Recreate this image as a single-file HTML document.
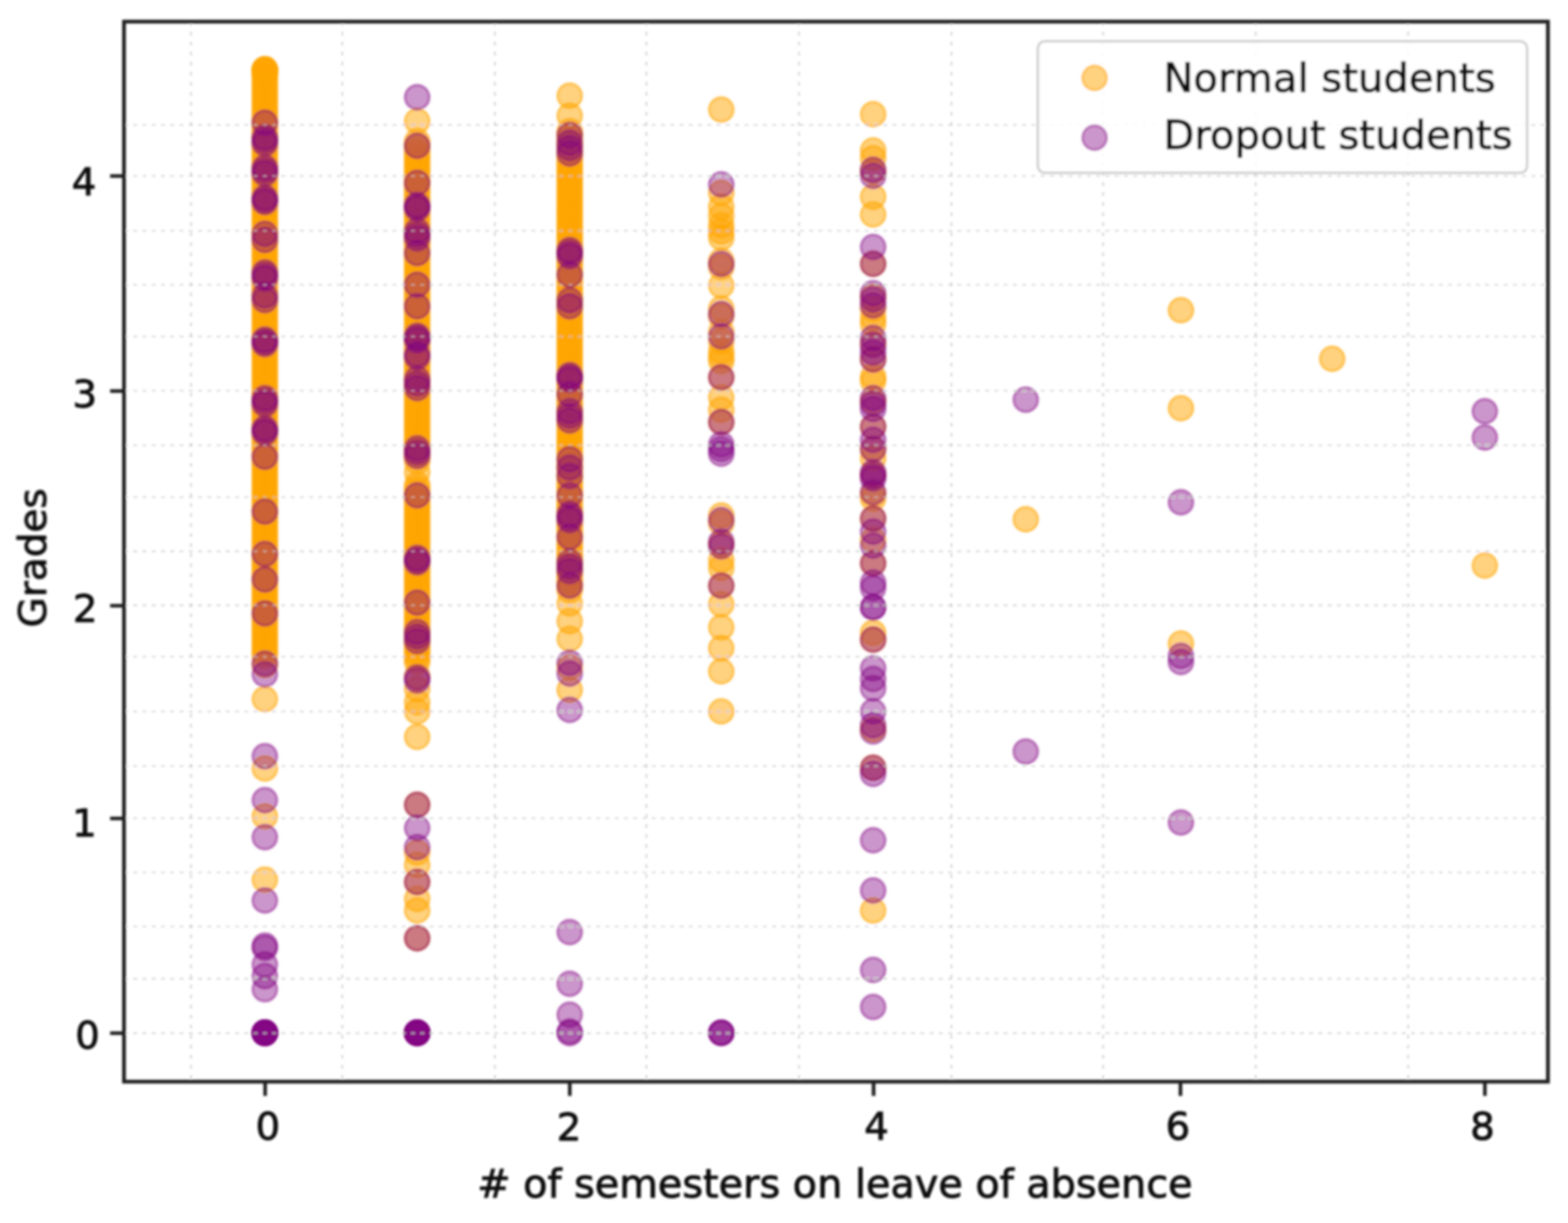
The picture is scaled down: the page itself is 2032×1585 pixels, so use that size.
<!DOCTYPE html>
<html><head><meta charset="utf-8"><title>Grades vs semesters on leave</title><style>html,body{margin:0;padding:0;background:#fff;overflow:hidden;}svg{display:block;}</style></head><body>
<svg width="2032" height="1585" viewBox="0 0 2032 1585"><defs><filter id="b" filterUnits="userSpaceOnUse" x="0" y="0" width="2032" height="1585"><feGaussianBlur stdDeviation="1.6"/></filter></defs><rect width="100%" height="100%" fill="#ffffff"/><g filter="url(#b)"><g fill="#ffa500" fill-opacity="0.50" stroke="#ffa500" stroke-opacity="0.50" stroke-width="3.4"><circle cx="343.2" cy="90.0" r="15.8"/><circle cx="343.2" cy="90.0" r="15.8"/><circle cx="343.2" cy="92.0" r="15.8"/><circle cx="343.2" cy="94.0" r="15.8"/><circle cx="343.2" cy="90.0" r="15.8"/><circle cx="343.2" cy="95.0" r="15.8"/><circle cx="343.2" cy="100.0" r="15.8"/><circle cx="343.2" cy="105.0" r="15.8"/><circle cx="343.2" cy="110.0" r="15.8"/><circle cx="343.2" cy="115.0" r="15.8"/><circle cx="343.2" cy="120.0" r="15.8"/><circle cx="343.2" cy="125.0" r="15.8"/><circle cx="343.2" cy="130.0" r="15.8"/><circle cx="343.2" cy="135.0" r="15.8"/><circle cx="343.2" cy="140.0" r="15.8"/><circle cx="343.2" cy="145.0" r="15.8"/><circle cx="343.2" cy="150.0" r="15.8"/><circle cx="343.2" cy="155.0" r="15.8"/><circle cx="343.2" cy="160.0" r="15.8"/><circle cx="343.2" cy="165.0" r="15.8"/><circle cx="343.2" cy="170.0" r="15.8"/><circle cx="343.2" cy="175.0" r="15.8"/><circle cx="343.2" cy="180.0" r="15.8"/><circle cx="343.2" cy="185.0" r="15.8"/><circle cx="343.2" cy="190.0" r="15.8"/><circle cx="343.2" cy="195.0" r="15.8"/><circle cx="343.2" cy="200.0" r="15.8"/><circle cx="343.2" cy="205.0" r="15.8"/><circle cx="343.2" cy="210.0" r="15.8"/><circle cx="343.2" cy="215.0" r="15.8"/><circle cx="343.2" cy="220.0" r="15.8"/><circle cx="343.2" cy="225.0" r="15.8"/><circle cx="343.2" cy="230.0" r="15.8"/><circle cx="343.2" cy="235.0" r="15.8"/><circle cx="343.2" cy="240.0" r="15.8"/><circle cx="343.2" cy="245.0" r="15.8"/><circle cx="343.2" cy="250.0" r="15.8"/><circle cx="343.2" cy="255.0" r="15.8"/><circle cx="343.2" cy="260.0" r="15.8"/><circle cx="343.2" cy="265.0" r="15.8"/><circle cx="343.2" cy="270.0" r="15.8"/><circle cx="343.2" cy="275.0" r="15.8"/><circle cx="343.2" cy="280.0" r="15.8"/><circle cx="343.2" cy="285.0" r="15.8"/><circle cx="343.2" cy="290.0" r="15.8"/><circle cx="343.2" cy="295.0" r="15.8"/><circle cx="343.2" cy="300.0" r="15.8"/><circle cx="343.2" cy="305.0" r="15.8"/><circle cx="343.2" cy="310.0" r="15.8"/><circle cx="343.2" cy="315.0" r="15.8"/><circle cx="343.2" cy="320.0" r="15.8"/><circle cx="343.2" cy="325.0" r="15.8"/><circle cx="343.2" cy="330.0" r="15.8"/><circle cx="343.2" cy="335.0" r="15.8"/><circle cx="343.2" cy="340.0" r="15.8"/><circle cx="343.2" cy="345.0" r="15.8"/><circle cx="343.2" cy="350.0" r="15.8"/><circle cx="343.2" cy="355.0" r="15.8"/><circle cx="343.2" cy="360.0" r="15.8"/><circle cx="343.2" cy="365.0" r="15.8"/><circle cx="343.2" cy="370.0" r="15.8"/><circle cx="343.2" cy="375.0" r="15.8"/><circle cx="343.2" cy="380.0" r="15.8"/><circle cx="343.2" cy="385.0" r="15.8"/><circle cx="343.2" cy="390.0" r="15.8"/><circle cx="343.2" cy="395.0" r="15.8"/><circle cx="343.2" cy="400.0" r="15.8"/><circle cx="343.2" cy="405.0" r="15.8"/><circle cx="343.2" cy="410.0" r="15.8"/><circle cx="343.2" cy="415.0" r="15.8"/><circle cx="343.2" cy="420.0" r="15.8"/><circle cx="343.2" cy="425.0" r="15.8"/><circle cx="343.2" cy="430.0" r="15.8"/><circle cx="343.2" cy="435.0" r="15.8"/><circle cx="343.2" cy="440.0" r="15.8"/><circle cx="343.2" cy="445.0" r="15.8"/><circle cx="343.2" cy="450.0" r="15.8"/><circle cx="343.2" cy="455.0" r="15.8"/><circle cx="343.2" cy="460.0" r="15.8"/><circle cx="343.2" cy="465.0" r="15.8"/><circle cx="343.2" cy="470.0" r="15.8"/><circle cx="343.2" cy="475.0" r="15.8"/><circle cx="343.2" cy="480.0" r="15.8"/><circle cx="343.2" cy="485.0" r="15.8"/><circle cx="343.2" cy="490.0" r="15.8"/><circle cx="343.2" cy="495.0" r="15.8"/><circle cx="343.2" cy="500.0" r="15.8"/><circle cx="343.2" cy="505.0" r="15.8"/><circle cx="343.2" cy="510.0" r="15.8"/><circle cx="343.2" cy="515.0" r="15.8"/><circle cx="343.2" cy="520.0" r="15.8"/><circle cx="343.2" cy="525.0" r="15.8"/><circle cx="343.2" cy="530.0" r="15.8"/><circle cx="343.2" cy="535.0" r="15.8"/><circle cx="343.2" cy="540.0" r="15.8"/><circle cx="343.2" cy="545.0" r="15.8"/><circle cx="343.2" cy="550.0" r="15.8"/><circle cx="343.2" cy="555.0" r="15.8"/><circle cx="343.2" cy="560.0" r="15.8"/><circle cx="343.2" cy="565.0" r="15.8"/><circle cx="343.2" cy="570.0" r="15.8"/><circle cx="343.2" cy="575.0" r="15.8"/><circle cx="343.2" cy="580.0" r="15.8"/><circle cx="343.2" cy="585.0" r="15.8"/><circle cx="343.2" cy="590.0" r="15.8"/><circle cx="343.2" cy="595.0" r="15.8"/><circle cx="343.2" cy="600.0" r="15.8"/><circle cx="343.2" cy="605.0" r="15.8"/><circle cx="343.2" cy="610.0" r="15.8"/><circle cx="343.2" cy="615.0" r="15.8"/><circle cx="343.2" cy="620.0" r="15.8"/><circle cx="343.2" cy="625.0" r="15.8"/><circle cx="343.2" cy="630.0" r="15.8"/><circle cx="343.2" cy="635.0" r="15.8"/><circle cx="343.2" cy="640.0" r="15.8"/><circle cx="343.2" cy="645.0" r="15.8"/><circle cx="343.2" cy="650.0" r="15.8"/><circle cx="343.2" cy="655.0" r="15.8"/><circle cx="343.2" cy="660.0" r="15.8"/><circle cx="343.2" cy="665.0" r="15.8"/><circle cx="343.2" cy="670.0" r="15.8"/><circle cx="343.2" cy="675.0" r="15.8"/><circle cx="343.2" cy="680.0" r="15.8"/><circle cx="343.2" cy="685.0" r="15.8"/><circle cx="343.2" cy="690.0" r="15.8"/><circle cx="343.2" cy="695.0" r="15.8"/><circle cx="343.2" cy="700.0" r="15.8"/><circle cx="343.2" cy="705.0" r="15.8"/><circle cx="343.2" cy="710.0" r="15.8"/><circle cx="343.2" cy="715.0" r="15.8"/><circle cx="343.2" cy="720.0" r="15.8"/><circle cx="343.2" cy="725.0" r="15.8"/><circle cx="343.2" cy="730.0" r="15.8"/><circle cx="343.2" cy="735.0" r="15.8"/><circle cx="343.2" cy="740.0" r="15.8"/><circle cx="343.2" cy="745.0" r="15.8"/><circle cx="343.2" cy="750.0" r="15.8"/><circle cx="343.2" cy="755.0" r="15.8"/><circle cx="343.2" cy="760.0" r="15.8"/><circle cx="343.2" cy="765.0" r="15.8"/><circle cx="343.2" cy="770.0" r="15.8"/><circle cx="343.2" cy="775.0" r="15.8"/><circle cx="343.2" cy="780.0" r="15.8"/><circle cx="343.2" cy="785.0" r="15.8"/><circle cx="343.2" cy="790.0" r="15.8"/><circle cx="343.2" cy="795.0" r="15.8"/><circle cx="343.2" cy="800.0" r="15.8"/><circle cx="343.2" cy="805.0" r="15.8"/><circle cx="343.2" cy="810.0" r="15.8"/><circle cx="343.2" cy="815.0" r="15.8"/><circle cx="343.2" cy="820.0" r="15.8"/><circle cx="343.2" cy="825.0" r="15.8"/><circle cx="343.2" cy="830.0" r="15.8"/><circle cx="343.2" cy="835.0" r="15.8"/><circle cx="343.2" cy="840.0" r="15.8"/><circle cx="343.2" cy="845.0" r="15.8"/><circle cx="343.2" cy="850.0" r="15.8"/><circle cx="343.2" cy="862.0" r="15.8"/><circle cx="343.2" cy="906.0" r="15.8"/><circle cx="343.2" cy="996.0" r="15.8"/><circle cx="343.2" cy="1058.0" r="15.8"/><circle cx="343.2" cy="1140.0" r="15.8"/><circle cx="540.6" cy="157.0" r="15.8"/><circle cx="540.6" cy="183.0" r="15.8"/><circle cx="540.6" cy="188.0" r="15.8"/><circle cx="540.6" cy="193.0" r="15.8"/><circle cx="540.6" cy="198.0" r="15.8"/><circle cx="540.6" cy="203.0" r="15.8"/><circle cx="540.6" cy="208.0" r="15.8"/><circle cx="540.6" cy="213.0" r="15.8"/><circle cx="540.6" cy="218.0" r="15.8"/><circle cx="540.6" cy="223.0" r="15.8"/><circle cx="540.6" cy="228.0" r="15.8"/><circle cx="540.6" cy="233.0" r="15.8"/><circle cx="540.6" cy="238.0" r="15.8"/><circle cx="540.6" cy="243.0" r="15.8"/><circle cx="540.6" cy="248.0" r="15.8"/><circle cx="540.6" cy="253.0" r="15.8"/><circle cx="540.6" cy="258.0" r="15.8"/><circle cx="540.6" cy="263.0" r="15.8"/><circle cx="540.6" cy="268.0" r="15.8"/><circle cx="540.6" cy="273.0" r="15.8"/><circle cx="540.6" cy="278.0" r="15.8"/><circle cx="540.6" cy="283.0" r="15.8"/><circle cx="540.6" cy="288.0" r="15.8"/><circle cx="540.6" cy="293.0" r="15.8"/><circle cx="540.6" cy="298.0" r="15.8"/><circle cx="540.6" cy="303.0" r="15.8"/><circle cx="540.6" cy="308.0" r="15.8"/><circle cx="540.6" cy="313.0" r="15.8"/><circle cx="540.6" cy="318.0" r="15.8"/><circle cx="540.6" cy="323.0" r="15.8"/><circle cx="540.6" cy="328.0" r="15.8"/><circle cx="540.6" cy="333.0" r="15.8"/><circle cx="540.6" cy="338.0" r="15.8"/><circle cx="540.6" cy="343.0" r="15.8"/><circle cx="540.6" cy="348.0" r="15.8"/><circle cx="540.6" cy="353.0" r="15.8"/><circle cx="540.6" cy="358.0" r="15.8"/><circle cx="540.6" cy="363.0" r="15.8"/><circle cx="540.6" cy="368.0" r="15.8"/><circle cx="540.6" cy="373.0" r="15.8"/><circle cx="540.6" cy="378.0" r="15.8"/><circle cx="540.6" cy="383.0" r="15.8"/><circle cx="540.6" cy="388.0" r="15.8"/><circle cx="540.6" cy="393.0" r="15.8"/><circle cx="540.6" cy="398.0" r="15.8"/><circle cx="540.6" cy="403.0" r="15.8"/><circle cx="540.6" cy="408.0" r="15.8"/><circle cx="540.6" cy="413.0" r="15.8"/><circle cx="540.6" cy="418.0" r="15.8"/><circle cx="540.6" cy="423.0" r="15.8"/><circle cx="540.6" cy="428.0" r="15.8"/><circle cx="540.6" cy="433.0" r="15.8"/><circle cx="540.6" cy="438.0" r="15.8"/><circle cx="540.6" cy="443.0" r="15.8"/><circle cx="540.6" cy="448.0" r="15.8"/><circle cx="540.6" cy="453.0" r="15.8"/><circle cx="540.6" cy="458.0" r="15.8"/><circle cx="540.6" cy="463.0" r="15.8"/><circle cx="540.6" cy="468.0" r="15.8"/><circle cx="540.6" cy="473.0" r="15.8"/><circle cx="540.6" cy="478.0" r="15.8"/><circle cx="540.6" cy="483.0" r="15.8"/><circle cx="540.6" cy="488.0" r="15.8"/><circle cx="540.6" cy="493.0" r="15.8"/><circle cx="540.6" cy="498.0" r="15.8"/><circle cx="540.6" cy="503.0" r="15.8"/><circle cx="540.6" cy="508.0" r="15.8"/><circle cx="540.6" cy="513.0" r="15.8"/><circle cx="540.6" cy="518.0" r="15.8"/><circle cx="540.6" cy="523.0" r="15.8"/><circle cx="540.6" cy="528.0" r="15.8"/><circle cx="540.6" cy="533.0" r="15.8"/><circle cx="540.6" cy="538.0" r="15.8"/><circle cx="540.6" cy="543.0" r="15.8"/><circle cx="540.6" cy="548.0" r="15.8"/><circle cx="540.6" cy="553.0" r="15.8"/><circle cx="540.6" cy="558.0" r="15.8"/><circle cx="540.6" cy="563.0" r="15.8"/><circle cx="540.6" cy="568.0" r="15.8"/><circle cx="540.6" cy="573.0" r="15.8"/><circle cx="540.6" cy="578.0" r="15.8"/><circle cx="540.6" cy="583.0" r="15.8"/><circle cx="540.6" cy="588.0" r="15.8"/><circle cx="540.6" cy="593.0" r="15.8"/><circle cx="540.6" cy="598.0" r="15.8"/><circle cx="540.6" cy="612.0" r="15.8"/><circle cx="540.6" cy="628.0" r="15.8"/><circle cx="540.6" cy="633.0" r="15.8"/><circle cx="540.6" cy="638.0" r="15.8"/><circle cx="540.6" cy="643.0" r="15.8"/><circle cx="540.6" cy="648.0" r="15.8"/><circle cx="540.6" cy="653.0" r="15.8"/><circle cx="540.6" cy="658.0" r="15.8"/><circle cx="540.6" cy="663.0" r="15.8"/><circle cx="540.6" cy="668.0" r="15.8"/><circle cx="540.6" cy="673.0" r="15.8"/><circle cx="540.6" cy="678.0" r="15.8"/><circle cx="540.6" cy="683.0" r="15.8"/><circle cx="540.6" cy="688.0" r="15.8"/><circle cx="540.6" cy="693.0" r="15.8"/><circle cx="540.6" cy="698.0" r="15.8"/><circle cx="540.6" cy="703.0" r="15.8"/><circle cx="540.6" cy="708.0" r="15.8"/><circle cx="540.6" cy="713.0" r="15.8"/><circle cx="540.6" cy="718.0" r="15.8"/><circle cx="540.6" cy="723.0" r="15.8"/><circle cx="540.6" cy="728.0" r="15.8"/><circle cx="540.6" cy="733.0" r="15.8"/><circle cx="540.6" cy="738.0" r="15.8"/><circle cx="540.6" cy="743.0" r="15.8"/><circle cx="540.6" cy="748.0" r="15.8"/><circle cx="540.6" cy="753.0" r="15.8"/><circle cx="540.6" cy="758.0" r="15.8"/><circle cx="540.6" cy="763.0" r="15.8"/><circle cx="540.6" cy="768.0" r="15.8"/><circle cx="540.6" cy="773.0" r="15.8"/><circle cx="540.6" cy="778.0" r="15.8"/><circle cx="540.6" cy="783.0" r="15.8"/><circle cx="540.6" cy="788.0" r="15.8"/><circle cx="540.6" cy="793.0" r="15.8"/><circle cx="540.6" cy="798.0" r="15.8"/><circle cx="540.6" cy="803.0" r="15.8"/><circle cx="540.6" cy="808.0" r="15.8"/><circle cx="540.6" cy="813.0" r="15.8"/><circle cx="540.6" cy="818.0" r="15.8"/><circle cx="540.6" cy="823.0" r="15.8"/><circle cx="540.6" cy="828.0" r="15.8"/><circle cx="540.6" cy="833.0" r="15.8"/><circle cx="540.6" cy="838.0" r="15.8"/><circle cx="540.6" cy="843.0" r="15.8"/><circle cx="540.6" cy="848.0" r="15.8"/><circle cx="540.6" cy="853.0" r="15.8"/><circle cx="540.6" cy="858.0" r="15.8"/><circle cx="540.6" cy="876.0" r="15.8"/><circle cx="540.6" cy="893.0" r="15.8"/><circle cx="540.6" cy="910.0" r="15.8"/><circle cx="540.6" cy="922.0" r="15.8"/><circle cx="540.6" cy="955.0" r="15.8"/><circle cx="540.6" cy="1043.0" r="15.8"/><circle cx="540.6" cy="1105.0" r="15.8"/><circle cx="540.6" cy="1121.0" r="15.8"/><circle cx="540.6" cy="1143.0" r="15.8"/><circle cx="540.6" cy="1165.0" r="15.8"/><circle cx="540.6" cy="1180.0" r="15.8"/><circle cx="540.6" cy="1216.0" r="15.8"/><circle cx="738.3" cy="124.0" r="15.8"/><circle cx="738.3" cy="150.0" r="15.8"/><circle cx="738.3" cy="170.0" r="15.8"/><circle cx="738.3" cy="175.0" r="15.8"/><circle cx="738.3" cy="180.0" r="15.8"/><circle cx="738.3" cy="185.0" r="15.8"/><circle cx="738.3" cy="190.0" r="15.8"/><circle cx="738.3" cy="195.0" r="15.8"/><circle cx="738.3" cy="200.0" r="15.8"/><circle cx="738.3" cy="205.0" r="15.8"/><circle cx="738.3" cy="210.0" r="15.8"/><circle cx="738.3" cy="215.0" r="15.8"/><circle cx="738.3" cy="220.0" r="15.8"/><circle cx="738.3" cy="225.0" r="15.8"/><circle cx="738.3" cy="230.0" r="15.8"/><circle cx="738.3" cy="235.0" r="15.8"/><circle cx="738.3" cy="240.0" r="15.8"/><circle cx="738.3" cy="245.0" r="15.8"/><circle cx="738.3" cy="250.0" r="15.8"/><circle cx="738.3" cy="255.0" r="15.8"/><circle cx="738.3" cy="260.0" r="15.8"/><circle cx="738.3" cy="265.0" r="15.8"/><circle cx="738.3" cy="270.0" r="15.8"/><circle cx="738.3" cy="275.0" r="15.8"/><circle cx="738.3" cy="280.0" r="15.8"/><circle cx="738.3" cy="285.0" r="15.8"/><circle cx="738.3" cy="290.0" r="15.8"/><circle cx="738.3" cy="295.0" r="15.8"/><circle cx="738.3" cy="300.0" r="15.8"/><circle cx="738.3" cy="305.0" r="15.8"/><circle cx="738.3" cy="310.0" r="15.8"/><circle cx="738.3" cy="315.0" r="15.8"/><circle cx="738.3" cy="320.0" r="15.8"/><circle cx="738.3" cy="325.0" r="15.8"/><circle cx="738.3" cy="330.0" r="15.8"/><circle cx="738.3" cy="335.0" r="15.8"/><circle cx="738.3" cy="340.0" r="15.8"/><circle cx="738.3" cy="345.0" r="15.8"/><circle cx="738.3" cy="350.0" r="15.8"/><circle cx="738.3" cy="355.0" r="15.8"/><circle cx="738.3" cy="360.0" r="15.8"/><circle cx="738.3" cy="365.0" r="15.8"/><circle cx="738.3" cy="370.0" r="15.8"/><circle cx="738.3" cy="375.0" r="15.8"/><circle cx="738.3" cy="380.0" r="15.8"/><circle cx="738.3" cy="385.0" r="15.8"/><circle cx="738.3" cy="390.0" r="15.8"/><circle cx="738.3" cy="395.0" r="15.8"/><circle cx="738.3" cy="400.0" r="15.8"/><circle cx="738.3" cy="405.0" r="15.8"/><circle cx="738.3" cy="410.0" r="15.8"/><circle cx="738.3" cy="415.0" r="15.8"/><circle cx="738.3" cy="420.0" r="15.8"/><circle cx="738.3" cy="425.0" r="15.8"/><circle cx="738.3" cy="430.0" r="15.8"/><circle cx="738.3" cy="435.0" r="15.8"/><circle cx="738.3" cy="440.0" r="15.8"/><circle cx="738.3" cy="445.0" r="15.8"/><circle cx="738.3" cy="450.0" r="15.8"/><circle cx="738.3" cy="455.0" r="15.8"/><circle cx="738.3" cy="460.0" r="15.8"/><circle cx="738.3" cy="465.0" r="15.8"/><circle cx="738.3" cy="470.0" r="15.8"/><circle cx="738.3" cy="475.0" r="15.8"/><circle cx="738.3" cy="480.0" r="15.8"/><circle cx="738.3" cy="485.0" r="15.8"/><circle cx="738.3" cy="490.0" r="15.8"/><circle cx="738.3" cy="495.0" r="15.8"/><circle cx="738.3" cy="500.0" r="15.8"/><circle cx="738.3" cy="505.0" r="15.8"/><circle cx="738.3" cy="510.0" r="15.8"/><circle cx="738.3" cy="515.0" r="15.8"/><circle cx="738.3" cy="520.0" r="15.8"/><circle cx="738.3" cy="525.0" r="15.8"/><circle cx="738.3" cy="530.0" r="15.8"/><circle cx="738.3" cy="535.0" r="15.8"/><circle cx="738.3" cy="540.0" r="15.8"/><circle cx="738.3" cy="545.0" r="15.8"/><circle cx="738.3" cy="550.0" r="15.8"/><circle cx="738.3" cy="555.0" r="15.8"/><circle cx="738.3" cy="560.0" r="15.8"/><circle cx="738.3" cy="565.0" r="15.8"/><circle cx="738.3" cy="570.0" r="15.8"/><circle cx="738.3" cy="575.0" r="15.8"/><circle cx="738.3" cy="580.0" r="15.8"/><circle cx="738.3" cy="585.0" r="15.8"/><circle cx="738.3" cy="590.0" r="15.8"/><circle cx="738.3" cy="595.0" r="15.8"/><circle cx="738.3" cy="600.0" r="15.8"/><circle cx="738.3" cy="605.0" r="15.8"/><circle cx="738.3" cy="610.0" r="15.8"/><circle cx="738.3" cy="615.0" r="15.8"/><circle cx="738.3" cy="620.0" r="15.8"/><circle cx="738.3" cy="625.0" r="15.8"/><circle cx="738.3" cy="630.0" r="15.8"/><circle cx="738.3" cy="635.0" r="15.8"/><circle cx="738.3" cy="640.0" r="15.8"/><circle cx="738.3" cy="645.0" r="15.8"/><circle cx="738.3" cy="650.0" r="15.8"/><circle cx="738.3" cy="655.0" r="15.8"/><circle cx="738.3" cy="660.0" r="15.8"/><circle cx="738.3" cy="665.0" r="15.8"/><circle cx="738.3" cy="670.0" r="15.8"/><circle cx="738.3" cy="675.0" r="15.8"/><circle cx="738.3" cy="680.0" r="15.8"/><circle cx="738.3" cy="685.0" r="15.8"/><circle cx="738.3" cy="690.0" r="15.8"/><circle cx="738.3" cy="695.0" r="15.8"/><circle cx="738.3" cy="700.0" r="15.8"/><circle cx="738.3" cy="705.0" r="15.8"/><circle cx="738.3" cy="710.0" r="15.8"/><circle cx="738.3" cy="715.0" r="15.8"/><circle cx="738.3" cy="720.0" r="15.8"/><circle cx="738.3" cy="725.0" r="15.8"/><circle cx="738.3" cy="730.0" r="15.8"/><circle cx="738.3" cy="735.0" r="15.8"/><circle cx="738.3" cy="740.0" r="15.8"/><circle cx="738.3" cy="745.0" r="15.8"/><circle cx="738.3" cy="750.0" r="15.8"/><circle cx="738.3" cy="755.0" r="15.8"/><circle cx="738.3" cy="760.0" r="15.8"/><circle cx="738.3" cy="765.0" r="15.8"/><circle cx="738.3" cy="782.0" r="15.8"/><circle cx="738.3" cy="805.0" r="15.8"/><circle cx="738.3" cy="828.0" r="15.8"/><circle cx="738.3" cy="865.0" r="15.8"/><circle cx="738.3" cy="894.0" r="15.8"/><circle cx="934.7" cy="142.0" r="15.8"/><circle cx="934.7" cy="250.0" r="15.8"/><circle cx="934.7" cy="268.0" r="15.8"/><circle cx="934.7" cy="280.0" r="15.8"/><circle cx="934.7" cy="292.0" r="15.8"/><circle cx="934.7" cy="300.0" r="15.8"/><circle cx="934.7" cy="308.0" r="15.8"/><circle cx="934.7" cy="338.0" r="15.8"/><circle cx="934.7" cy="346.0" r="15.8"/><circle cx="934.7" cy="370.0" r="15.8"/><circle cx="934.7" cy="400.0" r="15.8"/><circle cx="934.7" cy="410.0" r="15.8"/><circle cx="934.7" cy="430.0" r="15.8"/><circle cx="934.7" cy="442.0" r="15.8"/><circle cx="934.7" cy="455.0" r="15.8"/><circle cx="934.7" cy="462.0" r="15.8"/><circle cx="934.7" cy="468.0" r="15.8"/><circle cx="934.7" cy="489.0" r="15.8"/><circle cx="934.7" cy="515.0" r="15.8"/><circle cx="934.7" cy="531.0" r="15.8"/><circle cx="934.7" cy="547.0" r="15.8"/><circle cx="934.7" cy="668.0" r="15.8"/><circle cx="934.7" cy="678.0" r="15.8"/><circle cx="934.7" cy="705.0" r="15.8"/><circle cx="934.7" cy="726.0" r="15.8"/><circle cx="934.7" cy="736.0" r="15.8"/><circle cx="934.7" cy="759.0" r="15.8"/><circle cx="934.7" cy="783.0" r="15.8"/><circle cx="934.7" cy="813.0" r="15.8"/><circle cx="934.7" cy="840.0" r="15.8"/><circle cx="934.7" cy="870.0" r="15.8"/><circle cx="934.7" cy="922.0" r="15.8"/><circle cx="1131.5" cy="148.0" r="15.8"/><circle cx="1131.5" cy="195.0" r="15.8"/><circle cx="1131.5" cy="205.0" r="15.8"/><circle cx="1131.5" cy="222.0" r="15.8"/><circle cx="1131.5" cy="255.0" r="15.8"/><circle cx="1131.5" cy="278.0" r="15.8"/><circle cx="1131.5" cy="342.0" r="15.8"/><circle cx="1131.5" cy="385.0" r="15.8"/><circle cx="1131.5" cy="400.0" r="15.8"/><circle cx="1131.5" cy="412.0" r="15.8"/><circle cx="1131.5" cy="420.0" r="15.8"/><circle cx="1131.5" cy="445.0" r="15.8"/><circle cx="1131.5" cy="465.0" r="15.8"/><circle cx="1131.5" cy="488.0" r="15.8"/><circle cx="1131.5" cy="494.0" r="15.8"/><circle cx="1131.5" cy="520.0" r="15.8"/><circle cx="1131.5" cy="553.0" r="15.8"/><circle cx="1131.5" cy="582.0" r="15.8"/><circle cx="1131.5" cy="594.0" r="15.8"/><circle cx="1131.5" cy="615.0" r="15.8"/><circle cx="1131.5" cy="640.0" r="15.8"/><circle cx="1131.5" cy="646.0" r="15.8"/><circle cx="1131.5" cy="672.0" r="15.8"/><circle cx="1131.5" cy="700.0" r="15.8"/><circle cx="1131.5" cy="730.0" r="15.8"/><circle cx="1131.5" cy="820.0" r="15.8"/><circle cx="1131.5" cy="829.0" r="15.8"/><circle cx="1131.5" cy="945.0" r="15.8"/><circle cx="1131.5" cy="995.0" r="15.8"/><circle cx="1131.5" cy="1180.0" r="15.8"/><circle cx="1329.3" cy="673.0" r="15.8"/><circle cx="1530.4" cy="402.0" r="15.8"/><circle cx="1530.4" cy="529.0" r="15.8"/><circle cx="1530.4" cy="834.0" r="15.8"/><circle cx="1726.4" cy="465.0" r="15.8"/><circle cx="1924.2" cy="733.0" r="15.8"/></g><g fill="#800080" fill-opacity="0.41" stroke="#800080" stroke-opacity="0.41" stroke-width="3.4"><circle cx="343.2" cy="159.0" r="15.8"/><circle cx="343.2" cy="178.0" r="15.8"/><circle cx="343.2" cy="182.0" r="15.8"/><circle cx="343.2" cy="186.0" r="15.8"/><circle cx="343.2" cy="217.0" r="15.8"/><circle cx="343.2" cy="221.0" r="15.8"/><circle cx="343.2" cy="225.0" r="15.8"/><circle cx="343.2" cy="256.0" r="15.8"/><circle cx="343.2" cy="259.0" r="15.8"/><circle cx="343.2" cy="262.0" r="15.8"/><circle cx="343.2" cy="303.0" r="15.8"/><circle cx="343.2" cy="311.0" r="15.8"/><circle cx="343.2" cy="353.0" r="15.8"/><circle cx="343.2" cy="357.0" r="15.8"/><circle cx="343.2" cy="361.0" r="15.8"/><circle cx="343.2" cy="383.0" r="15.8"/><circle cx="343.2" cy="389.0" r="15.8"/><circle cx="343.2" cy="440.0" r="15.8"/><circle cx="343.2" cy="443.0" r="15.8"/><circle cx="343.2" cy="446.0" r="15.8"/><circle cx="343.2" cy="516.0" r="15.8"/><circle cx="343.2" cy="520.0" r="15.8"/><circle cx="343.2" cy="524.0" r="15.8"/><circle cx="343.2" cy="555.0" r="15.8"/><circle cx="343.2" cy="558.0" r="15.8"/><circle cx="343.2" cy="561.0" r="15.8"/><circle cx="343.2" cy="592.0" r="15.8"/><circle cx="343.2" cy="663.0" r="15.8"/><circle cx="343.2" cy="718.0" r="15.8"/><circle cx="343.2" cy="751.0" r="15.8"/><circle cx="343.2" cy="795.0" r="15.8"/><circle cx="343.2" cy="860.0" r="15.8"/><circle cx="343.2" cy="874.0" r="15.8"/><circle cx="343.2" cy="980.0" r="15.8"/><circle cx="343.2" cy="1037.0" r="15.8"/><circle cx="343.2" cy="1085.0" r="15.8"/><circle cx="343.2" cy="1167.0" r="15.8"/><circle cx="343.2" cy="1225.5" r="15.8"/><circle cx="343.2" cy="1228.5" r="15.8"/><circle cx="343.2" cy="1250.0" r="15.8"/><circle cx="343.2" cy="1265.0" r="15.8"/><circle cx="343.2" cy="1282.0" r="15.8"/><circle cx="343.2" cy="1338.2" r="15.8"/><circle cx="343.2" cy="1338.3" r="15.8"/><circle cx="343.2" cy="1338.4" r="15.8"/><circle cx="343.2" cy="1338.5" r="15.8"/><circle cx="343.2" cy="1338.6" r="15.8"/><circle cx="343.2" cy="1338.7" r="15.8"/><circle cx="343.2" cy="1338.8" r="15.8"/><circle cx="540.6" cy="126.0" r="15.8"/><circle cx="540.6" cy="189.0" r="15.8"/><circle cx="540.6" cy="237.0" r="15.8"/><circle cx="540.6" cy="265.5" r="15.8"/><circle cx="540.6" cy="268.0" r="15.8"/><circle cx="540.6" cy="270.5" r="15.8"/><circle cx="540.6" cy="299.0" r="15.8"/><circle cx="540.6" cy="304.0" r="15.8"/><circle cx="540.6" cy="309.0" r="15.8"/><circle cx="540.6" cy="328.0" r="15.8"/><circle cx="540.6" cy="369.0" r="15.8"/><circle cx="540.6" cy="397.0" r="15.8"/><circle cx="540.6" cy="435.0" r="15.8"/><circle cx="540.6" cy="438.0" r="15.8"/><circle cx="540.6" cy="441.0" r="15.8"/><circle cx="540.6" cy="459.0" r="15.8"/><circle cx="540.6" cy="463.0" r="15.8"/><circle cx="540.6" cy="491.0" r="15.8"/><circle cx="540.6" cy="497.0" r="15.8"/><circle cx="540.6" cy="503.0" r="15.8"/><circle cx="540.6" cy="581.0" r="15.8"/><circle cx="540.6" cy="586.0" r="15.8"/><circle cx="540.6" cy="591.0" r="15.8"/><circle cx="540.6" cy="642.0" r="15.8"/><circle cx="540.6" cy="723.0" r="15.8"/><circle cx="540.6" cy="726.0" r="15.8"/><circle cx="540.6" cy="729.0" r="15.8"/><circle cx="540.6" cy="781.0" r="15.8"/><circle cx="540.6" cy="819.0" r="15.8"/><circle cx="540.6" cy="825.0" r="15.8"/><circle cx="540.6" cy="831.0" r="15.8"/><circle cx="540.6" cy="878.0" r="15.8"/><circle cx="540.6" cy="882.0" r="15.8"/><circle cx="540.6" cy="1043.0" r="15.8"/><circle cx="540.6" cy="1073.0" r="15.8"/><circle cx="540.6" cy="1098.0" r="15.8"/><circle cx="540.6" cy="1143.0" r="15.8"/><circle cx="540.6" cy="1216.0" r="15.8"/><circle cx="540.6" cy="1338.2" r="15.8"/><circle cx="540.6" cy="1338.3" r="15.8"/><circle cx="540.6" cy="1338.4" r="15.8"/><circle cx="540.6" cy="1338.5" r="15.8"/><circle cx="540.6" cy="1338.6" r="15.8"/><circle cx="540.6" cy="1338.7" r="15.8"/><circle cx="540.6" cy="1338.8" r="15.8"/><circle cx="738.3" cy="175.0" r="15.8"/><circle cx="738.3" cy="185.0" r="15.8"/><circle cx="738.3" cy="192.0" r="15.8"/><circle cx="738.3" cy="199.0" r="15.8"/><circle cx="738.3" cy="324.0" r="15.8"/><circle cx="738.3" cy="328.0" r="15.8"/><circle cx="738.3" cy="332.0" r="15.8"/><circle cx="738.3" cy="356.0" r="15.8"/><circle cx="738.3" cy="389.0" r="15.8"/><circle cx="738.3" cy="397.0" r="15.8"/><circle cx="738.3" cy="486.0" r="15.8"/><circle cx="738.3" cy="489.0" r="15.8"/><circle cx="738.3" cy="492.0" r="15.8"/><circle cx="738.3" cy="511.0" r="15.8"/><circle cx="738.3" cy="533.0" r="15.8"/><circle cx="738.3" cy="539.0" r="15.8"/><circle cx="738.3" cy="545.0" r="15.8"/><circle cx="738.3" cy="595.0" r="15.8"/><circle cx="738.3" cy="606.0" r="15.8"/><circle cx="738.3" cy="617.0" r="15.8"/><circle cx="738.3" cy="642.0" r="15.8"/><circle cx="738.3" cy="666.0" r="15.8"/><circle cx="738.3" cy="670.0" r="15.8"/><circle cx="738.3" cy="674.0" r="15.8"/><circle cx="738.3" cy="696.0" r="15.8"/><circle cx="738.3" cy="728.0" r="15.8"/><circle cx="738.3" cy="734.0" r="15.8"/><circle cx="738.3" cy="740.0" r="15.8"/><circle cx="738.3" cy="759.0" r="15.8"/><circle cx="738.3" cy="859.0" r="15.8"/><circle cx="738.3" cy="873.0" r="15.8"/><circle cx="738.3" cy="920.0" r="15.8"/><circle cx="738.3" cy="1208.0" r="15.8"/><circle cx="738.3" cy="1275.0" r="15.8"/><circle cx="738.3" cy="1315.0" r="15.8"/><circle cx="738.3" cy="1337.0" r="15.8"/><circle cx="738.3" cy="1339.0" r="15.8"/><circle cx="934.7" cy="239.0" r="15.8"/><circle cx="934.7" cy="342.0" r="15.8"/><circle cx="934.7" cy="407.0" r="15.8"/><circle cx="934.7" cy="436.0" r="15.8"/><circle cx="934.7" cy="489.0" r="15.8"/><circle cx="934.7" cy="547.0" r="15.8"/><circle cx="934.7" cy="576.0" r="15.8"/><circle cx="934.7" cy="582.0" r="15.8"/><circle cx="934.7" cy="588.0" r="15.8"/><circle cx="934.7" cy="674.0" r="15.8"/><circle cx="934.7" cy="702.0" r="15.8"/><circle cx="934.7" cy="708.0" r="15.8"/><circle cx="934.7" cy="759.0" r="15.8"/><circle cx="934.7" cy="1338.2" r="15.8"/><circle cx="934.7" cy="1338.5" r="15.8"/><circle cx="934.7" cy="1338.8" r="15.8"/><circle cx="1131.5" cy="220.0" r="15.8"/><circle cx="1131.5" cy="228.0" r="15.8"/><circle cx="1131.5" cy="320.0" r="15.8"/><circle cx="1131.5" cy="342.0" r="15.8"/><circle cx="1131.5" cy="380.0" r="15.8"/><circle cx="1131.5" cy="388.0" r="15.8"/><circle cx="1131.5" cy="396.0" r="15.8"/><circle cx="1131.5" cy="438.0" r="15.8"/><circle cx="1131.5" cy="447.3" r="15.8"/><circle cx="1131.5" cy="456.7" r="15.8"/><circle cx="1131.5" cy="466.0" r="15.8"/><circle cx="1131.5" cy="516.0" r="15.8"/><circle cx="1131.5" cy="523.0" r="15.8"/><circle cx="1131.5" cy="530.0" r="15.8"/><circle cx="1131.5" cy="553.0" r="15.8"/><circle cx="1131.5" cy="570.0" r="15.8"/><circle cx="1131.5" cy="582.0" r="15.8"/><circle cx="1131.5" cy="612.0" r="15.8"/><circle cx="1131.5" cy="616.0" r="15.8"/><circle cx="1131.5" cy="620.0" r="15.8"/><circle cx="1131.5" cy="638.0" r="15.8"/><circle cx="1131.5" cy="672.0" r="15.8"/><circle cx="1131.5" cy="689.0" r="15.8"/><circle cx="1131.5" cy="707.0" r="15.8"/><circle cx="1131.5" cy="730.0" r="15.8"/><circle cx="1131.5" cy="755.0" r="15.8"/><circle cx="1131.5" cy="762.0" r="15.8"/><circle cx="1131.5" cy="787.0" r="15.8"/><circle cx="1131.5" cy="787.0" r="15.8"/><circle cx="1131.5" cy="829.0" r="15.8"/><circle cx="1131.5" cy="866.0" r="15.8"/><circle cx="1131.5" cy="880.0" r="15.8"/><circle cx="1131.5" cy="892.0" r="15.8"/><circle cx="1131.5" cy="922.0" r="15.8"/><circle cx="1131.5" cy="940.0" r="15.8"/><circle cx="1131.5" cy="948.0" r="15.8"/><circle cx="1131.5" cy="995.0" r="15.8"/><circle cx="1131.5" cy="1003.0" r="15.8"/><circle cx="1131.5" cy="1089.0" r="15.8"/><circle cx="1131.5" cy="1154.0" r="15.8"/><circle cx="1131.5" cy="1257.0" r="15.8"/><circle cx="1131.5" cy="1305.0" r="15.8"/><circle cx="1329.3" cy="518.0" r="15.8"/><circle cx="1329.3" cy="974.0" r="15.8"/><circle cx="1530.4" cy="651.0" r="15.8"/><circle cx="1530.4" cy="850.0" r="15.8"/><circle cx="1530.4" cy="858.0" r="15.8"/><circle cx="1530.4" cy="1066.0" r="15.8"/><circle cx="1924.2" cy="533.0" r="15.8"/><circle cx="1924.2" cy="567.0" r="15.8"/></g><g stroke="#c6c6c6" stroke-opacity="0.8" stroke-width="1.8" stroke-dasharray="5 7"><line x1="160.7" y1="161.9" x2="2006.0" y2="161.9"/><line x1="160.7" y1="228.1" x2="2006.0" y2="228.1"/><line x1="160.7" y1="299.1" x2="2006.0" y2="299.1"/><line x1="160.7" y1="369.2" x2="2006.0" y2="369.2"/><line x1="160.7" y1="436.2" x2="2006.0" y2="436.2"/><line x1="160.7" y1="506.3" x2="2006.0" y2="506.3"/><line x1="160.7" y1="577.2" x2="2006.0" y2="577.2"/><line x1="160.7" y1="644.3" x2="2006.0" y2="644.3"/><line x1="160.7" y1="714.5" x2="2006.0" y2="714.5"/><line x1="160.7" y1="784.5" x2="2006.0" y2="784.5"/><line x1="160.7" y1="851.2" x2="2006.0" y2="851.2"/><line x1="160.7" y1="922.2" x2="2006.0" y2="922.2"/><line x1="160.7" y1="992.8" x2="2006.0" y2="992.8"/><line x1="160.7" y1="1060.3" x2="2006.0" y2="1060.3"/><line x1="160.7" y1="1130.6" x2="2006.0" y2="1130.6"/><line x1="160.7" y1="1200.7" x2="2006.0" y2="1200.7"/><line x1="160.7" y1="1268.5" x2="2006.0" y2="1268.5"/><line x1="160.7" y1="1339.0" x2="2006.0" y2="1339.0"/></g><g stroke="#bdbdbd" stroke-opacity="0.8" stroke-width="1.8" stroke-dasharray="5 8"><line x1="247.5" y1="28.0" x2="247.5" y2="1401.8"/><line x1="443.6" y1="28.0" x2="443.6" y2="1401.8"/><line x1="641.3" y1="28.0" x2="641.3" y2="1401.8"/><line x1="837.7" y1="28.0" x2="837.7" y2="1401.8"/><line x1="1035.4" y1="28.0" x2="1035.4" y2="1401.8"/><line x1="1233.0" y1="28.0" x2="1233.0" y2="1401.8"/><line x1="1429.5" y1="28.0" x2="1429.5" y2="1401.8"/><line x1="1627.3" y1="28.0" x2="1627.3" y2="1401.8"/><line x1="1824.8" y1="28.0" x2="1824.8" y2="1401.8"/></g><rect x="1345" y="53.5" width="634" height="170.5" rx="9" ry="9" fill="#ffffff" fill-opacity="0.85" stroke="#cccccc" stroke-width="3"/><circle cx="1418.5" cy="101" r="15.8" fill="#ffa500" fill-opacity="0.50" stroke="#ffa500" stroke-opacity="0.50" stroke-width="3.4"/><circle cx="1418.5" cy="178.5" r="15.8" fill="#800080" fill-opacity="0.41" stroke="#800080" stroke-opacity="0.41" stroke-width="3.4"/><g font-family="DejaVu Sans, Liberation Sans, sans-serif" fill="#111111" stroke="#111111" stroke-width="1.10" font-size="52.0"><text x="1507.7" y="119.0">Normal students</text><text x="1507.7" y="192.5">Dropout students</text></g><g stroke="#1c1c1c" stroke-width="4.6"><line x1="343.6" y1="1401.8" x2="343.6" y2="1420.3"/><line x1="738.4" y1="1401.8" x2="738.4" y2="1420.3"/><line x1="1132.1" y1="1401.8" x2="1132.1" y2="1420.3"/><line x1="1529.8" y1="1401.8" x2="1529.8" y2="1420.3"/><line x1="1924.3" y1="1401.8" x2="1924.3" y2="1420.3"/><line x1="142.7" y1="228.1" x2="160.7" y2="228.1"/><line x1="142.7" y1="506.8" x2="160.7" y2="506.8"/><line x1="142.7" y1="785.0" x2="160.7" y2="785.0"/><line x1="142.7" y1="1060.7" x2="160.7" y2="1060.7"/><line x1="142.7" y1="1339.0" x2="160.7" y2="1339.0"/></g><rect x="160.7" y="28.0" width="1845.3" height="1373.8" fill="none" stroke="#1c1c1c" stroke-width="4.8"/><g font-family="DejaVu Sans, Liberation Sans, sans-serif" fill="#111111" stroke="#111111" stroke-width="1.10" font-size="51.5"><g font-size="50"><text x="347.1" y="1477.4" text-anchor="middle">0</text><text x="737.5" y="1478.0" text-anchor="middle">2</text><text x="1136.0" y="1476.8" text-anchor="middle">4</text><text x="1526.5" y="1476.6" text-anchor="middle">6</text><text x="1921.1" y="1476.6" text-anchor="middle">8</text><text x="109.0" y="252.8" text-anchor="middle">4</text><text x="109.9" y="527.8" text-anchor="middle">3</text><text x="110.5" y="805.8" text-anchor="middle">2</text><text x="109.4" y="1083.5" text-anchor="middle">1</text><text x="113.4" y="1359.4" text-anchor="middle">0</text></g><text x="1081.9" y="1552.0" text-anchor="middle"># of semesters on leave of absence</text><text transform="translate(59.6,722.9) rotate(-90)" text-anchor="middle" font-size="50.5">Grades</text></g></g></svg>
</body></html>
